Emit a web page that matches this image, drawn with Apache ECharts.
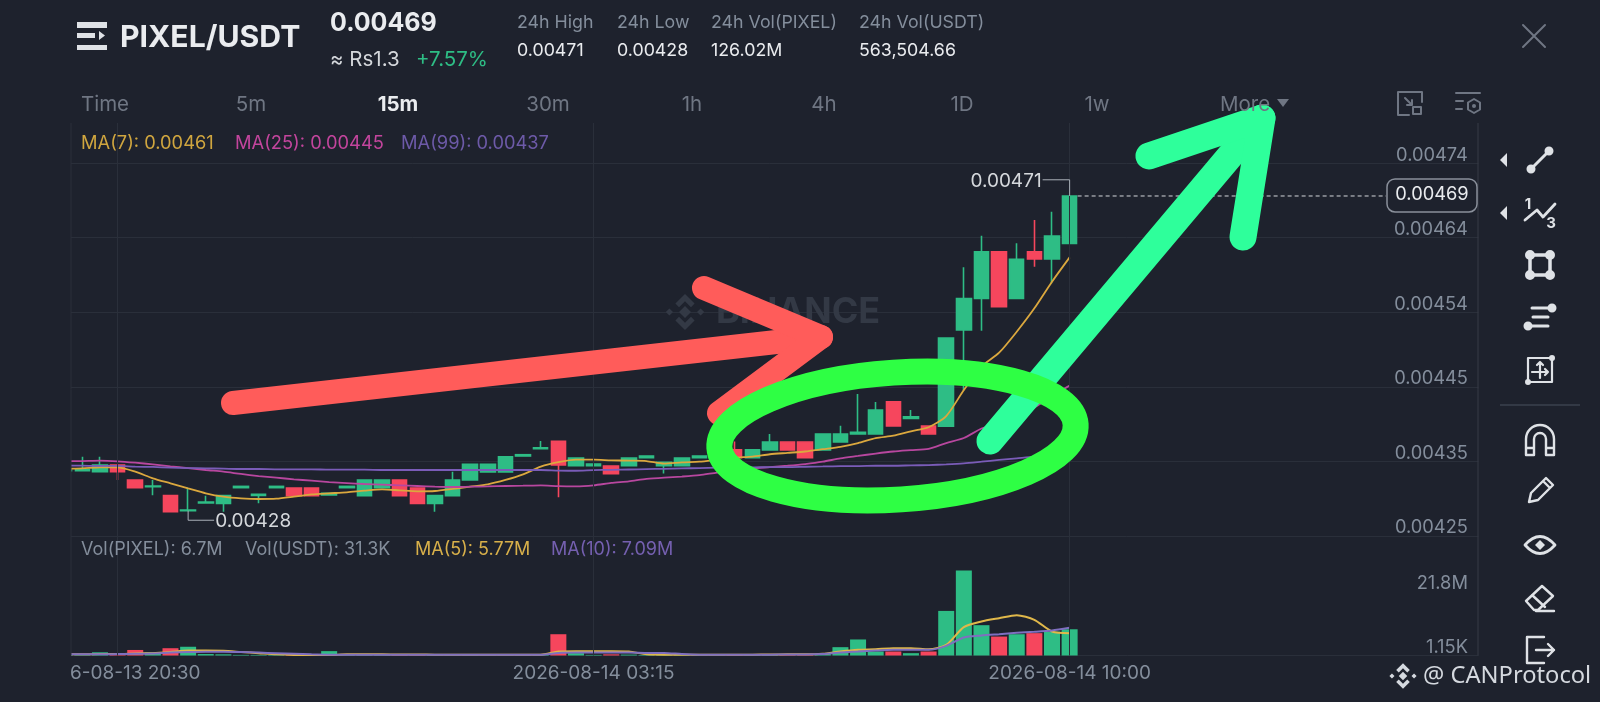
<!DOCTYPE html>
<html><head><meta charset="utf-8">
<style>html,body{margin:0;padding:0;background:#1e222d}#c{width:1600px;height:702px}</style>
<script src="https://cdn.jsdelivr.net/npm/echarts@6/dist/echarts.min.js"></script>
</head><body><div id="c"></div>
<script>
const categories = ["2026-08-13 19:45","2026-08-13 20:00","2026-08-13 20:15","2026-08-13 20:30","2026-08-13 20:45","2026-08-13 21:00","2026-08-13 21:15","2026-08-13 21:30","2026-08-13 21:45","2026-08-13 22:00","2026-08-13 22:15","2026-08-13 22:30","2026-08-13 22:45","2026-08-13 23:00","2026-08-13 23:15","2026-08-13 23:30","2026-08-13 23:45","2026-08-14 00:00","2026-08-14 00:15","2026-08-14 00:30","2026-08-14 00:45","2026-08-14 01:00","2026-08-14 01:15","2026-08-14 01:30","2026-08-14 01:45","2026-08-14 02:00","2026-08-14 02:15","2026-08-14 02:30","2026-08-14 02:45","2026-08-14 03:00","2026-08-14 03:15","2026-08-14 03:30","2026-08-14 03:45","2026-08-14 04:00","2026-08-14 04:15","2026-08-14 04:30","2026-08-14 04:45","2026-08-14 05:00","2026-08-14 05:15","2026-08-14 05:30","2026-08-14 05:45","2026-08-14 06:00","2026-08-14 06:15","2026-08-14 06:30","2026-08-14 06:45","2026-08-14 07:00","2026-08-14 07:15","2026-08-14 07:30","2026-08-14 07:45","2026-08-14 08:00","2026-08-14 08:15","2026-08-14 08:30","2026-08-14 08:45","2026-08-14 09:00","2026-08-14 09:15","2026-08-14 09:30","2026-08-14 09:45","2026-08-14 10:00"];
const blankSlots = ["","","","","","","","","","","","","","","","","","","","","","",""];
const timeLabels = ["2026-08-13 20:30","2026-08-14 03:15","2026-08-14 10:00"];
const opens = [.0043358,.0043358,.0043345,.0043433,.0043236,.0043148,.0043030,.0042833,.0042934,.0042929,.0043135,.0043034,.0043135,.0043131,.0043131,.0043039,.0043135,.0043030,.0043135,.0043236,.0043131,.0042929,.0043030,.0043236,.0043341,.0043341,.0043551,.0043647,.0043743,.0043423,.0043423,.0043419,.0043423,.0043530,.0043423,.0043423,.0043530,.0043521,.0043632,.0043530,.0043632,.0043734,.0043734,.0043632,.0043734,.0043841,.0043841,.0044262,.0044045,.0043943,.0043943,.0045206,.0045622,.0046235,.0045622,.0046235,.0046139,.0046345];
const closes = [.0043376,.0043376,.0043433,.0043345,.0043135,.0043157,.0042820,.0042842,.0042947,.0043030,.0043152,.0043047,.0043152,.0043030,.0043030,.0043061,.0043152,.0043236,.0043236,.0043030,.0042929,.0043030,.0043236,.0043441,.0043441,.0043542,.0043568,.0043660,.0043432,.0043525,.0043445,.0043317,.0043525,.0043552,.0043468,.0043525,.0043552,.0043543,.0043530,.0043632,.0043734,.0043632,.0043530,.0043841,.0043841,.0043863,.0044156,.0043947,.0044067,.0043841,.0045101,.0045618,.0046235,.0045513,.0046135,.0046139,.0046441,.0046967];
const lows = [.0043358,.0043358,.0043345,.0043236,.0043135,.0043034,.0042820,.0042833,.0042934,.0042820,.0043135,.0042929,.0043135,.0043030,.0043030,.0043039,.0043135,.0043030,.0043135,.0043030,.0042929,.0042820,.0043030,.0043236,.0043341,.0043341,.0043551,.0043647,.0043010,.0043423,.0043423,.0043317,.0043423,.0043530,.0043321,.0043423,.0043530,.0043521,.0043530,.0043530,.0043632,.0043632,.0043530,.0043632,.0043734,.0043841,.0043841,.0043947,.0044045,.0043841,.0043943,.0044409,.0045197,.0045513,.0045622,.0046038,.0045819,.0046345];
const highs = [.0043376,.0043542,.0043542,.0043433,.0043236,.0043236,.0043030,.0043135,.0043030,.0043030,.0043152,.0043047,.0043152,.0043131,.0043131,.0043061,.0043152,.0043236,.0043236,.0043236,.0043131,.0043030,.0043345,.0043441,.0043441,.0043542,.0043568,.0043748,.0043743,.0043525,.0043445,.0043419,.0043525,.0043552,.0043468,.0043525,.0043552,.0043543,.0043743,.0043632,.0043841,.0043734,.0043734,.0043841,.0043947,.0044364,.0044262,.0044262,.0044156,.0043943,.0045101,.0046030,.0046445,.0046235,.0046345,.0046651,.0046761,.0046967];
const ma7 = [.0043385,.0043389,.0043402,.0043402,.0043345,.0043258,.0043192,.0043126,.0043061,.0043017,.0042995,.0042986,.0042990,.0043017,.0043047,.0043061,.0043074,.0043096,.0043113,.0043100,.0043087,.0043091,.0043118,.0043148,.0043179,.0043236,.0043310,.0043411,.0043470,.0043503,.0043503,.0043494,.0043490,.0043485,.0043450,.0043468,.0043476,.0043503,.0043530,.0043543,.0043574,.0043592,.0043610,.0043641,.0043672,.0043721,.0043787,.0043818,.0043876,.0043929,.0044076,.0044418,.0044725,.0044908,.0045184,.0045491,.0045841,.0046161];
const ma25 = [.0043482,.0043485,.0043490,.0043481,.0043463,.0043441,.0043415,.0043393,.0043367,.0043345,.0043315,.0043288,.0043266,.0043245,.0043227,.0043209,.0043196,.0043183,.0043174,.0043166,.0043157,.0043148,.0043144,.0043148,.0043152,.0043157,.0043161,.0043166,.0043155,.0043152,.0043166,.0043197,.0043219,.0043250,.0043268,.0043281,.0043299,.0043334,.0043361,.0043388,.0043405,.0043423,.0043445,.0043476,.0043521,.0043552,.0043583,.0043610,.0043628,.0043645,.0043721,.0043787,.0043912,.0043987,.0044089,.0044187,.0044342,.0044476];
const ma99 = [.0043426,.0043424,.0043420,.0043420,.0043411,.0043407,.0043398,.0043393,.0043389,.0043385,.0043380,.0043380,.0043376,.0043376,.0043376,.0043371,.0043371,.0043371,.0043367,.0043367,.0043367,.0043367,.0043367,.0043367,.0043367,.0043367,.0043367,.0043367,.0043360,.0043357,.0043366,.0043370,.0043374,.0043379,.0043383,.0043388,.0043392,.0043397,.0043401,.0043401,.0043405,.0043405,.0043410,.0043414,.0043419,.0043419,.0043423,.0043423,.0043428,.0043432,.0043441,.0043454,.0043476,.0043499,.0043521,.0043543,.0043556,.0043574];
const volumes = [.3,.3,1.1,.3,1.9,1.1,2.5,3.0,.5,.4,.2,.2,.2,.3,.3,1.5,.3,.4,.3,.3,.4,.3,.4,.3,.2,.3,.2,.2,7.3,.8,.2,.4,.3,.2,.3,.3,.2,.3,.4,.3,.5,.3,.4,.5,2.86,5.5,1.37,1.37,.8,1.37,15.3,29.2,10.4,6.5,7.3,7.67,8.2,9.0];
const volMa5 = [.4,.4,.5,.5,.7,.8,1.2,1.7,1.7,1.6,1.2,.8,.4,.2,.15,.15,.4,.4,.4,.35,.35,.3,.3,.3,.3,.3,.3,.3,1.37,1.5,1.5,1.5,1.4,.4,.3,.3,.3,.3,.3,.3,.35,.4,.4,.6,1.37,1.95,2.17,2.52,2.52,2.17,3.66,9.72,11.67,12.81,13.84,12.24,8.24,7.66];
const volMa10 = [.4,.4,.4,.5,.6,.7,1.0,1.2,1.3,1.3,1.2,1.0,.8,.6,.4,.3,.3,.3,.3,.3,.3,.3,.3,.3,.3,.3,.3,.3,.9,1.0,1.0,1.0,1.0,.9,.9,.5,.3,.3,.3,.3,.3,.35,.35,.5,1.03,1.37,1.72,1.95,1.95,1.95,3.32,6.18,6.86,7.32,7.78,8.12,8.58,9.5];
const priceTicks = [.00425,.004348,.004446,.004544,.004642,.00474];
const volTicks = [.00115,21.8];
const lastPrice = .0046967, lowCalloutIndex = 7, highCalloutIndex = 57;

const BG='#1e222d',GRID='#2a2f3a',GREY='#848e9c',WHITE='#eaecef',UP='#2ebd85',DOWN='#f6465d',
  C7='#dba83e',C25='#b8479f',C99='#7a5cb8',ICON='#dfe2e6',DIM='#6f7683',FONT='Inter';
const band=17.63,left=55.9;
const xCats=categories.concat(blankSlots);
const chart=echarts.init(document.getElementById('c'),null,{renderer:'canvas'});
const vLines={silent:true,symbol:'none',label:{show:false},lineStyle:{color:GRID,width:1,type:'solid'},animation:false,data:timeLabels.map(t=>({xAxis:t}))};
const line=(name,data,color,x,y,w)=>({name,type:'line',data,xAxisIndex:x,yAxisIndex:y,showSymbol:false,smooth:.25,lineStyle:{color,width:w},itemStyle:{color},z:4,silent:true});
chart.setOption({
  animation:false,backgroundColor:BG,
  textStyle:{fontFamily:FONT},
  grid:[{left,top:123,width:band*xCats.length,height:413},{left,top:536,width:band*xCats.length,height:119.5}],
  xAxis:[
    {type:'category',gridIndex:0,data:xCats,axisLabel:{show:false},axisTick:{show:false},axisLine:{show:false},splitLine:{show:false}},
    {type:'category',gridIndex:1,data:xCats,axisTick:{show:false},axisLine:{show:true,lineStyle:{color:GRID}},splitLine:{show:false},
     axisLabel:{color:GREY,fontSize:19,fontFamily:FONT,margin:8,hideOverlap:false,interval:(i,v)=>timeLabels.includes(v)}}
  ],
  yAxis:[
    {type:'value',gridIndex:0,position:'right',min:.00425,max:.0047926,scale:true,axisLine:{show:false},axisTick:{show:false,customValues:priceTicks},
     splitLine:{show:true,lineStyle:{color:GRID,width:1}},
     axisLabel:{inside:true,margin:16,color:GREY,fontSize:18.3,lineHeight:16,fontFamily:FONT,verticalAlign:'bottom',customValues:priceTicks,formatter:v=>v.toFixed(5)}},
    {type:'value',gridIndex:1,position:'right',min:0,max:41,axisLine:{show:false},axisTick:{show:false,customValues:volTicks},splitLine:{show:false},
     axisLabel:{inside:true,margin:16,color:GREY,fontSize:18.3,lineHeight:16,fontFamily:FONT,verticalAlign:'bottom',customValues:volTicks,formatter:v=>v<1?(v*1000).toFixed(2)+'K':v.toFixed(1)+'M'}}
  ],
  series:[
    {name:'PIXEL/USDT',type:'candlestick',xAxisIndex:0,yAxisIndex:0,barWidth:15,z:3,silent:true,
     data:opens.map((o,i)=>[o,closes[i],lows[i],highs[i]]),
     itemStyle:{color:UP,color0:DOWN,borderColor:UP,borderColor0:DOWN,borderWidth:1.6},markLine:vLines},
    line('MA(7)',ma7,C7,0,0,1.8),line('MA(25)',ma25,C25,0,0,1.8),line('MA(99)',ma99,C99,0,0,1.8),
    {name:'Vol',type:'bar',xAxisIndex:1,yAxisIndex:1,barWidth:16,z:3,silent:true,
     data:volumes.map((v,i)=>({value:v,itemStyle:{color:closes[i]>=opens[i]?UP:DOWN}})),markLine:vLines},
    line('MA(5)',volMa5,'#e0b84a',1,1,2),line('MA(10)',volMa10,'#7f6fc0',1,1,2)
  ]
});

function txt(text,x,y,size,color,weight,align,family){return {type:'text',x,y,z:60,silent:true,style:{text,fill:color,font:(weight||'normal')+' '+size+'px '+(family||FONT),textAlign:align||'left',textVerticalAlign:'middle',align:align||'left',verticalAlign:'middle'}};}
let pathCount=0;
function path(d,x,y,opt){opt=opt||{};const name='sketchPath'+(pathCount++);echarts.graphic.registerShape(name,echarts.graphic.extendPath(d,{}));return {type:name,x,y,z:opt.z||60,silent:true,scaleX:opt.s||1,scaleY:opt.s||1,style:{fill:opt.fill||'none',stroke:opt.stroke||null,lineWidth:opt.w||2.4,lineCap:'round',lineJoin:'round'}};}
function dot(cx,cy,r){return `M${cx-r} ${cy}A${r} ${r} 0 1 0 ${cx+r} ${cy}A${r} ${r} 0 1 0 ${cx-r} ${cy}Z`;}
const S={stroke:ICON},F={fill:ICON};
const logo='M0 -5L5 0L0 5L-5 0ZM-13 -3L-10 0L-13 3L-16 0ZM13 -3L16 0L13 3L10 0ZM-8 -7L0 -15L8 -7L5 -4L0 -9L-5 -4ZM-8 7L0 15L8 7L5 4L0 9L-5 4Z';
const px=(i,p)=>chart.convertToPixel({xAxisIndex:0,yAxisIndex:0},[i,p]);
const high=px(highCalloutIndex,highs[highCalloutIndex]), hiTop=px(highCalloutIndex,.004718);
const low=px(lowCalloutIndex,lows[lowCalloutIndex]), loBot=px(lowCalloutIndex,.0042707);
const last=px(highCalloutIndex,lastPrice);
const CALL='#aab0b9';
const MID=20.5,STAT=17.8,LEG=18.3,VLEG=18;
const els=[
  path(logo,685,312,{fill:'#333945',z:1,s:1.2}),
  Object.assign(txt('BINANCE',716,312,36,'#333945','bold'),{z:1}),
  {type:'rect',z:50,silent:true,shape:{x:0,y:118,width:71,height:572},style:{fill:BG}},
  {type:'rect',z:50,silent:true,shape:{x:1478.5,y:118,width:122,height:560},style:{fill:BG}},
  {type:'line',z:51,silent:true,shape:{x1:71,y1:123,x2:71,y2:655.5},style:{stroke:GRID,lineWidth:1}},
  {type:'line',z:51,silent:true,shape:{x1:1478,y1:123,x2:1478,y2:655.5},style:{stroke:'#363b47',lineWidth:1}},
  {type:'polyline',z:52,silent:true,shape:{points:[[high[0],high[1]],[hiTop[0],hiTop[1]],[hiTop[0]-27,hiTop[1]]]},style:{fill:'none',stroke:CALL,lineWidth:1}},
  txt('0.00471',hiTop[0]-28,hiTop[1]+1,19,'#d5d8dc','normal','right'),
  {type:'polyline',z:52,silent:true,shape:{points:[[low[0],low[1]],[loBot[0],loBot[1]],[loBot[0]+26,loBot[1]]]},style:{fill:'none',stroke:CALL,lineWidth:1}},
  txt('0.00428',loBot[0]+27,loBot[1]+1,19,'#d5d8dc'),
  {type:'line',z:52,silent:true,shape:{x1:last[0]+8,y1:last[1],x2:1386,y2:last[1]},style:{stroke:'#d5d8dc',lineWidth:1,lineDash:[4,3]}},
  {type:'rect',z:53,silent:true,shape:{x:1387,y:last[1]-17,width:90,height:33,r:8},style:{fill:BG,stroke:'#8a909b',lineWidth:1.5}},
  txt('0.00469',1432,last[1]-1,18.3,WHITE,'normal','center'),
  path('M77 22H107V28H77ZM77 33H95V38H77ZM99 31L105 35.5L99 40ZM77 45H107V50H77Z',0,0,F),
  txt('PIXEL/USDT',120,38,30.2,WHITE,'bold'),
  txt('0.00469',330,23,25,WHITE,'bold'),
  txt('≈ Rs1.3',330,60,MID,'#d5d8dc'),
  txt('+7.57%',416,60,MID,UP),
  txt('24h High',517,23,STAT,GREY),txt('0.00471',517,51,STAT,WHITE),
  txt('24h Low',617,23,STAT,GREY),txt('0.00428',617,51,STAT,WHITE),
  txt('24h Vol(PIXEL)',711,23,STAT,GREY),txt('126.02M',711,51,STAT,WHITE),
  txt('24h Vol(USDT)',859,23,STAT,GREY),txt('563,504.66',859,51,STAT,WHITE),
  path('M-11 -11L11 11M11 -11L-11 11',1534,36,{stroke:DIM,w:2}),
  txt('Time',105,105,MID,DIM,'normal','center'),txt('5m',251,105,MID,DIM,'normal','center'),
  txt('15m',398,105,MID,WHITE,'bold','center'),txt('30m',548,105,MID,DIM,'normal','center'),
  txt('1h',692,105,MID,DIM,'normal','center'),txt('4h',824,105,MID,DIM,'normal','center'),
  txt('1D',962,105,MID,DIM,'normal','center'),txt('1w',1097,105,MID,DIM,'normal','center'),
  txt('More',1220,105,MID,DIM),
  path('M1277 99H1289L1283 107Z',0,0,{fill:DIM}),
  path('M-12 12V-11H12V-1M-12 12H-1M3 4H11V11H3ZM-5 -5L2 2M2 -3V2H-3',1410,103,{stroke:DIM,w:2}),
  path('M-12 -10H12M-12 -2H-5M-12 6H-6M6 -4L12 -0.5V6.5L6 10L0 6.5V-0.5Z',1468,103,{stroke:DIM,w:2}),
  path(dot(6,3,2),1468,103,{fill:DIM}),
  txt('MA(7): 0.00461',81,144,LEG,'#d0a63f'),txt('MA(25): 0.00445',235,144,LEG,'#c3459d'),txt('MA(99): 0.00437',401,144,LEG,'#6d5aa8'),
  txt('Vol(PIXEL): 6.7M',81,550,VLEG,GREY),txt('Vol(USDT): 31.3K',245,550,VLEG,GREY),
  txt('MA(5): 5.77M',415,550,VLEG,'#d8b04a'),txt('MA(10): 7.09M',551,550,VLEG,'#7560b0'),
  path('M1507 153V167L1500 160Z',0,0,F),path('M1507 206V220L1500 213Z',0,0,F),
  path('M-8 8L8 -8',1540,160,{stroke:ICON,w:3}),path(dot(-9,9,4.5)+dot(9,-9,4.5),1540,160,F),
  path('M-15 7L-3 -3L3 4L15 -9',1540,213,{stroke:ICON,w:2.8}),txt('1',1528,204,15,ICON,'bold','center'),txt('3',1551,223,15,ICON,'bold','center'),
  path('M-10 -10H10V10H-10Z',1540,265,{stroke:ICON,w:3.5}),path(dot(-10,-10,5)+dot(10,-10,5)+dot(10,10,5)+dot(-10,10,5),1540,265,F),
  path('M-8 -9H11M-7 0H8M-11 9H8',1540,317,{stroke:ICON,w:3}),path(dot(12,-9,4.5)+dot(-12,9,4.5),1540,317,F),
  path('M-12 -12H12V12H-12ZM0 -8V8M-8 2H8M-3 -5L0 -8L3 -5M5 -1L8 2L5 5',1540,370,{stroke:ICON,w:2.2}),path(dot(12,-12,3)+dot(-12,12,3),1540,370,F),
  {type:'line',z:60,silent:true,shape:{x1:1500,y1:405,x2:1580,y2:405},style:{stroke:'#333945',lineWidth:2}},
  path('M-14 15V-1A14 14 0 0 1 14 -1V15H6V-1A6 6 0 0 0 -6 -1V15ZM-14 8H-6M6 8H14',1540,440,S),
  path('M-11 12L-9 3L6 -12L13 -5L-2 10ZM3 -9L10 -2',1540,490,S),
  path('M-15 0Q0 -17 15 0Q0 17 -15 0Z',1540,545,{stroke:ICON,w:2.8}),path('M0 -5L5 0L0 5L-5 0Z',1540,545,F),
  path('M-14 3L2 -12L13 -2L-2 12H-6ZM-8 -3L5 9M-4 13H14',1540,598,S),
  path('M4 -13H-13V13H4M-4 0H14M8 -6L14 0L8 6',1540,650,S),
  path(logo,1403,676,{fill:'#d5d9df',s:.85}),
  txt('@ CANProtocol',1423,676,23.7,'#d5d9df','normal','left','"Noto Sans"'),
  {type:'polyline',z:55,silent:true,shape:{points:[[233,403],[821,337]]},style:{fill:'none',stroke:'#ff5c5a',lineWidth:24,lineCap:'round'}},
  {type:'polyline',z:55,silent:true,shape:{points:[[704,288],[821,337],[719,413]]},style:{fill:'none',stroke:'#ff5c5a',lineWidth:24,lineCap:'round',lineJoin:'round'}},
  {type:'polyline',z:56,silent:true,shape:{points:[[990,441],[1262,118]]},style:{fill:'none',stroke:'#2eff9b',lineWidth:27,lineCap:'round'}},
  {type:'polyline',z:56,silent:true,shape:{points:[[1149,156],[1262,118],[1243,237]]},style:{fill:'none',stroke:'#2eff9b',lineWidth:27,lineCap:'round',lineJoin:'round'}},
  {type:'ellipse',z:57,silent:true,x:897.5,y:436,rotation:.065,shape:{cx:0,cy:0,rx:178.5,ry:63.5},style:{fill:'none',stroke:'#2eff44',lineWidth:26}}
];
chart.setOption({graphic:{elements:els}});
</script></body></html>
